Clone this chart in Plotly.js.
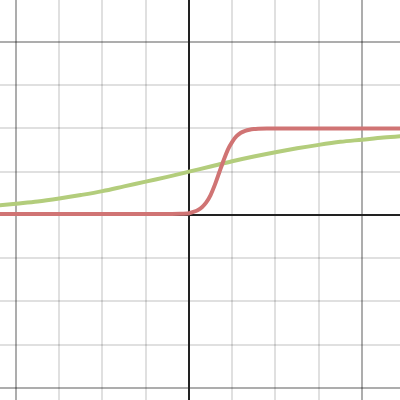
<!DOCTYPE html>
<html>
<head>
<meta charset="utf-8">
<script src="https://cdn.plot.ly/plotly-3.0.1.min.js"></script>
<style>
html,body{margin:0;padding:0;background:#fff;}
#chart{width:400px;height:400px;}
</style>
</head>
<body>
<div id="chart"></div>
<script>
// Values (grid unit = one minor cell)
var redX = [-4.5, -1, -0.5, -0.2, 0, 0.1, 0.2, 0.3, 0.4, 0.5, 0.6, 0.7, 0.8, 0.9, 1.0, 1.1, 1.2, 1.3, 1.4, 1.5, 1.6, 1.8, 2.0, 3.0, 5.0];
var redY = [0.02, 0.02, 0.02, 0.025, 0.04, 0.07, 0.11, 0.18, 0.29, 0.46, 0.70, 0.98, 1.26, 1.51, 1.69, 1.82, 1.90, 1.945, 1.97, 1.985, 1.992, 1.998, 2.0, 2.0, 2.0];

var greenX = [-4.5, -4, -3.5, -3, -2.5, -2, -1.5, -1, -0.5, 0, 0.5, 1, 1.5, 2, 2.5, 3, 3.5, 4, 4.5, 5];
var greenY = [0.21, 0.26, 0.31, 0.38, 0.46, 0.55, 0.66, 0.77, 0.88, 1.00, 1.12, 1.24, 1.35, 1.45, 1.54, 1.62, 1.69, 1.74, 1.79, 1.83];

var traces = [
  {x: greenX, y: greenY, mode: 'lines', line: {color: '#b3cd7c', width: 4, shape: 'spline', smoothing: 1}, hoverinfo: 'skip'},
  {x: redX, y: redY, mode: 'lines', line: {color: '#d07474', width: 4, shape: 'spline', smoothing: 0.7}, hoverinfo: 'skip'}
];

function axis(range) {
  return {
    range: range,
    tick0: 0,
    dtick: 4,
    showgrid: true,
    gridcolor: 'rgba(0,0,0,0.32)',
    gridwidth: 2,
    minor: {dtick: 1, tick0: 0, showgrid: true, gridcolor: 'rgba(0,0,0,0.12)', gridwidth: 2},
    zeroline: true,
    zerolinecolor: '#222',
    zerolinewidth: 2,
    showticklabels: false,
    ticks: '',
    showline: false,
    fixedrange: true
  };
}

var layout = {
  width: 400,
  height: 400,
  margin: {l: 0, r: 0, t: 0, b: 0},
  paper_bgcolor: '#fff',
  plot_bgcolor: '#fff',
  showlegend: false,
  xaxis: axis([-4.37, 4.88]),
  yaxis: axis([-4.28, 4.97])
};

Plotly.newPlot('chart', traces, layout, {displayModeBar: false, staticPlot: true});
</script>
</body>
</html>
